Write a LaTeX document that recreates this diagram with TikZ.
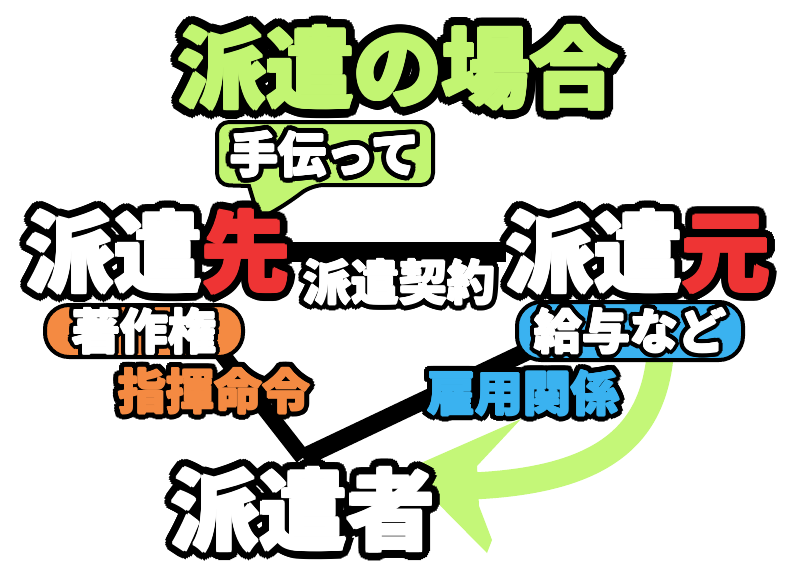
\documentclass[tikz,border=0pt]{standalone}
\usepackage{fontspec}
\newfontfamily\jp{Noto Sans CJK JP}
\usetikzlibrary{calc}
\definecolor{tgreen}{RGB}{194,245,114}
\definecolor{agreen}{RGB}{196,247,120}
\definecolor{tred}{RGB}{238,52,52}
\definecolor{torange}{RGB}{244,138,66}
\definecolor{tblue}{RGB}{58,178,240}
\pgfdeclarelayer{bg}
\pgfdeclarelayer{paper}
\pgfsetlayers{paper,bg,main}
\newcommand\hcplain[2]{#2}
\newcommand\hc[2]{\textcolor{#1}{#2}}
% name, position, style, outer radius, inner radius, bolden radius, colour, text
\newcommand\olt[8]{%
  \begin{scope}[shift={(#2)}]
  \foreach \a in {0,15,...,345}{%
    \node[#3,text=black,xshift={#4*cos(\a)*1pt},yshift={#4*sin(\a)*1pt}] at (0,0) {\let\hc\hcplain#8};
    \node[#3,text=black,xshift={#5*cos(\a)*1pt},yshift={#5*sin(\a)*1pt}] at (0,0) {\let\hc\hcplain#8};
  }%
  \foreach \a in {0,45,...,315}{%
    \node[#3,text=#7,xshift={#6*cos(\a)*1pt},yshift={#6*sin(\a)*1pt}] at (0,0) {#8};
  }%
  \end{scope}
  \node[#3,text=#7] (#1) at (#2) {#8};
}
\tikzset{
  tbig/.style={font=\jp\bfseries\fontsize{88}{92}\selectfont, inner sep=0pt},
  tmid/.style={font=\jp\bfseries\fontsize{48}{52}\selectfont, inner sep=0pt},
  pill/.style={draw=black, line width=4pt, rounded corners=24pt},
}
\begin{document}
\begin{tikzpicture}[x=1pt,y=-1pt]
\begin{pgfonlayer}{paper}
\fill[white] (0,0) rectangle (800,571);
\end{pgfonlayer}
\useasboundingbox (0,0) rectangle (800,571);
% texts
\olt{title}{398,68}{tbig}{10}{5}{1.5}{tgreen}{派遣の場合}
\olt{tetsu}{325,154}{tmid}{6}{3}{1}{white}{手伝って}
\olt{saki}{158,252}{tbig}{9}{4.5}{1.5}{white}{派遣\hc{tred}{先}}
\olt{moto}{638,252}{tbig}{9}{4.5}{1.5}{white}{派遣\hc{tred}{元}}
\olt{keiyaku}{399,282}{tmid}{6}{3}{1}{white}{派遣契約}
\node[pill, fill=torange, minimum width=198pt, minimum height=52pt] (kbox) at (144,331) {};
\olt{kt}{144,331}{tmid}{5}{2.5}{1}{white}{著作権}
\node[pill, fill=tblue, minimum width=226pt, minimum height=58pt] (qbox) at (630,331) {};
\olt{qt}{630,331}{tmid}{5}{2.5}{1}{white}{給与など}
\olt{shiki}{214,391}{tmid}{6}{3}{1}{torange}{指揮命令}
\olt{koyo}{523,393}{tmid}{6}{3}{1}{tblue}{雇用関係}
\olt{hs}{303,510}{tbig}{9}{4.5}{1.5}{white}{派遣者}
\begin{pgfonlayer}{bg}
  % speech bubble
  \filldraw[fill=tgreen, line width=4pt, rounded corners=12pt]
    (217,122) -- (433,122) -- (433,185) -- (312,185) [sharp corners]
    .. controls (292,200) and (278,210) .. (259,219) -- (249,186)
    [rounded corners=12pt] -- (217,185) -- cycle;
  % contract bar
  \draw[line width=20pt] (saki.east) -- (moto.west);
  % lines to the worker
  \coordinate (vj) at ($(hs.north)+(0,-10)$);
  \draw[line width=16pt] ($(kbox.south)+(78,-5)$) -- (vj);
  \draw[line width=18pt] ($(qbox.south west)+(15,-12)$) -- (vj);
  % green arrow
  \coordinate (atip) at (405,470);
  \fill[agreen] (521,419) -- (477,466) -- (479,506) -- (492,540) -- (487,553) -- (atip) -- cycle;
  \draw[agreen, line width=27pt] ($(qbox.south)+(30,-5)$) .. controls (652,430) and (610,480) .. (472,486);
\end{pgfonlayer}
\end{tikzpicture}
\end{document}
